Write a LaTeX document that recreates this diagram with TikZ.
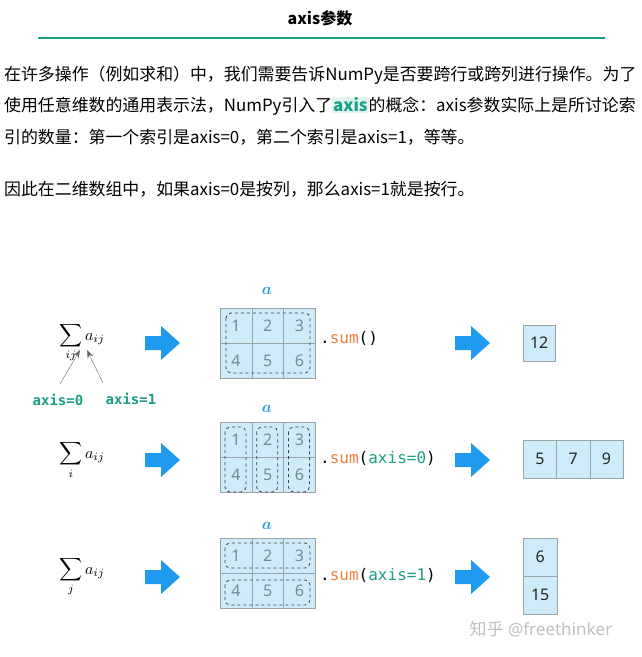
\documentclass[tikz,border=0pt]{standalone}
\usepackage{amsmath,amsbsy}
\usepackage{fontspec}
\setmainfont{Noto Sans}
\newfontfamily\cjk{Noto Sans CJK SC}
\newfontfamily\codef{DejaVu Sans Mono}
\usetikzlibrary{arrows.meta}
\definecolor{teal1}{HTML}{1A9E86}
\definecolor{cellbg}{HTML}{CFEAF8}
\definecolor{gridc}{HTML}{9AA5AA}
\definecolor{barrow}{HTML}{1E9BEF}
\definecolor{orng}{HTML}{F07F3C}
\definecolor{lbl}{HTML}{2A9FD6}
\definecolor{numc}{HTML}{7A8A92}
\begin{document}
\begin{tikzpicture}[x=1pt,y=-1pt,
  txt/.style={anchor=west,inner sep=0pt,font=\cjk\fontsize{16.9}{18}\selectfont},
  cell/.style={draw=gridc,fill=cellbg,minimum width=31.7pt,minimum height=35pt,inner sep=0pt,font=\fontsize{16}{18}\selectfont\color{numc}},
  rcell/.style={draw=gridc,fill=cellbg,inner sep=0pt,font=\fontsize{16}{18}\selectfont\color{black!85}},
  dgroup/.style={draw=black!75,dashed,line width=0.8pt,rounded corners=5pt},
  code/.style={anchor=west,inner sep=0pt,font=\codef\fontsize{16}{18}\selectfont},
  aname/.style={inner sep=0pt,text=lbl},
  pt/.style={-{Stealth[length=8pt]},draw=black!60,thin}]
\useasboundingbox (0,0) rectangle (641,657);
\node[font=\cjk\bfseries\fontsize{16}{18}\selectfont,inner sep=0pt] (title) at (320,18) {axis参数};
\draw[teal1,line width=2.5pt] (38,38) -- (605,38);
\node[txt] (l1) at (4,75) {在许多操作（例如求和）中，我们需要告诉NumPy是否要跨行或跨列进行操作。为了};
\node[txt] (l2) at (4,106) {使用任意维数的通用表示法，NumPy引入了{\setlength{\fboxsep}{1pt}\colorbox{teal1!12}{\bfseries\color{teal1}axis}}的概念：axis参数实际上是所讨论索};
\node[txt] (l3) at (4,137) {引的数量：第一个索引是axis=0，第二个索引是axis=1，等等。};
\node[txt] (l4) at (4,189) {因此在二维数组中，如果axis=0是按列，那么axis=1就是按行。};

% formulas
\node (f1) at (82,343) {\scalebox{1.6}{$\displaystyle\sum_{ij} a_{ij}$}};
\node (f2) at (82,460) {\scalebox{1.6}{$\displaystyle\sum_{i} a_{ij}$}};
\node (f3) at (82,577) {\scalebox{1.6}{$\displaystyle\sum_{j} a_{ij}$}};
\node[font=\codef\bfseries\fontsize{14}{16}\selectfont,text=teal1] (ax0) at (58,400) {axis=0};
\node[font=\codef\bfseries\fontsize{14}{16}\selectfont,text=teal1] (ax1) at (131,399) {axis=1};
\coordinate (t0) at (80,350); \coordinate (t1) at (87,350);
\coordinate (s0) at (60,384); \coordinate (s1) at (103,383);
\draw[pt] (s0) -- (t0);
\draw[pt] (s1) -- (t1);

% blue arrows
\foreach \x/\y in {145/343,145/460,145/577,455/343,455/460,455/577}{
  \fill[barrow] (\x,\y-7) -- (\x+16,\y-7) -- (\x+16,\y-17) -- (\x+35,\y) -- (\x+16,\y+17) -- (\x+16,\y+7) -- (\x,\y+7) -- cycle;}

% grids
\foreach \r/\yt in {1/308,2/422,3/538}{
  \foreach \i/\n in {0/1,1/2,2/3}{
    \node[cell,anchor=north west] (g\r-\n) at (220+\i*31.7,\yt) {\n};}
  \foreach \i/\n in {0/4,1/5,2/6}{
    \node[cell,anchor=north west] (g\r-\n) at (220+\i*31.7,\yt+35) {\n};}
}
\node[aname] (a1) at (267,291) {\scalebox{1.6}{$\boldsymbol{a}$}};
\node[aname] (a2) at (267,409) {\scalebox{1.6}{$\boldsymbol{a}$}};
\node[aname] (a3) at (267,526) {\scalebox{1.6}{$\boldsymbol{a}$}};
% dashed groups
\draw[dgroup] (226,313) rectangle (310,373);
\foreach \i in {0,1,2}{\draw[dgroup] (225+\i*31.7,427) rectangle (246+\i*31.7,492);}
\draw[dgroup] (225,543) rectangle (310,568);
\draw[dgroup] (225,580) rectangle (310,605);

% code
\node[code] (c1) at (320,338) {.{\color{orng}sum}()};
\node[code] (c2) at (320,458) {.{\color{orng}sum}({\color{teal1}axis=0})};
\node[code] (c3) at (320,575) {.{\color{orng}sum}({\color{teal1}axis=1})};

% results
\node[rcell,minimum width=32pt,minimum height=36pt,anchor=north west] (r1) at (523,325) {12};
\foreach \i/\v in {0/5,1/7,2/9}{
  \node[rcell,minimum width=33.3pt,minimum height=38pt,anchor=north west] (r2-\v) at (523+\i*33.3,440) {\v};}
\node[rcell,minimum width=34pt,minimum height=38pt,anchor=north west] (r3a) at (523,538) {6};
\node[rcell,minimum width=34pt,minimum height=38pt,anchor=north west] (r3b) at (523,576) {15};

\node[font=\fontsize{17}{18}\selectfont,text=black!25,inner sep=0pt] (wm) at (541,629) {{\cjk 知乎} @freethinker};
\end{tikzpicture}
\end{document}
